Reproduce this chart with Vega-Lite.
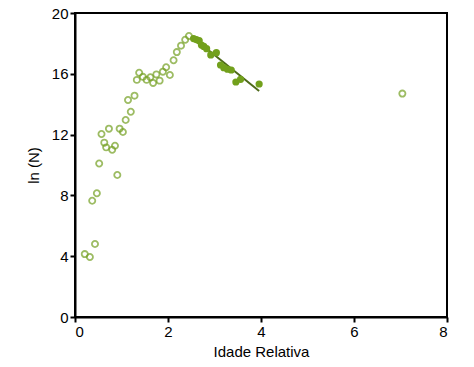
{
  "$schema": "https://vega.github.io/schema/vega-lite/v6.json",
  "width": 372,
  "height": 304,
  "autosize": {"type": "none"},
  "padding": {"left": 75, "top": 13, "right": 27, "bottom": 50},
  "background": "white",
  "config": {
    "view": {"stroke": "black", "strokeWidth": 2},
    "axis": {
      "grid": false,
      "domainColor": "black",
      "domainWidth": 2,
      "tickColor": "black",
      "tickWidth": 2,
      "tickSize": 5,
      "labelFont": "Liberation Sans",
      "labelFontSize": 15,
      "labelColor": "black",
      "titleFont": "Liberation Sans",
      "titleFontSize": 15,
      "titleFontWeight": "normal",
      "titleColor": "black"
    }
  },
  "datasets": {
    "pts": [
      {"x": 0.21, "y": 4.14, "g": "open"},
      {"x": 0.32, "y": 3.95, "g": "open"},
      {"x": 0.43, "y": 4.8, "g": "open"},
      {"x": 0.37, "y": 7.65, "g": "open"},
      {"x": 0.47, "y": 8.14, "g": "open"},
      {"x": 0.52, "y": 10.1, "g": "open"},
      {"x": 0.57, "y": 12.04, "g": "open"},
      {"x": 0.63, "y": 11.47, "g": "open"},
      {"x": 0.67, "y": 11.16, "g": "open"},
      {"x": 0.73, "y": 12.39, "g": "open"},
      {"x": 0.8, "y": 11.0, "g": "open"},
      {"x": 0.86, "y": 11.27, "g": "open"},
      {"x": 0.91, "y": 9.34, "g": "open"},
      {"x": 0.96, "y": 12.39, "g": "open"},
      {"x": 1.03, "y": 12.17, "g": "open"},
      {"x": 1.09, "y": 12.96, "g": "open"},
      {"x": 1.14, "y": 14.28, "g": "open"},
      {"x": 1.2, "y": 13.5, "g": "open"},
      {"x": 1.28, "y": 14.56, "g": "open"},
      {"x": 1.33, "y": 15.6, "g": "open"},
      {"x": 1.38, "y": 16.07, "g": "open"},
      {"x": 1.46, "y": 15.8, "g": "open"},
      {"x": 1.54, "y": 15.6, "g": "open"},
      {"x": 1.62, "y": 15.77, "g": "open"},
      {"x": 1.68, "y": 15.4, "g": "open"},
      {"x": 1.75, "y": 15.96, "g": "open"},
      {"x": 1.82, "y": 15.55, "g": "open"},
      {"x": 1.89, "y": 16.14, "g": "open"},
      {"x": 1.96, "y": 16.43, "g": "open"},
      {"x": 2.04, "y": 15.92, "g": "open"},
      {"x": 2.12, "y": 16.89, "g": "open"},
      {"x": 2.19, "y": 17.43, "g": "open"},
      {"x": 2.28, "y": 17.85, "g": "open"},
      {"x": 2.37, "y": 18.24, "g": "open"},
      {"x": 2.45, "y": 18.49, "g": "open"},
      {"x": 7.04, "y": 14.7, "g": "open"},
      {"x": 2.55, "y": 18.32, "g": "filled"},
      {"x": 2.61, "y": 18.25, "g": "filled"},
      {"x": 2.67, "y": 18.18, "g": "filled"},
      {"x": 2.72, "y": 17.89, "g": "filled"},
      {"x": 2.77, "y": 17.8, "g": "filled"},
      {"x": 2.83, "y": 17.65, "g": "filled"},
      {"x": 2.92, "y": 17.24, "g": "filled"},
      {"x": 3.04, "y": 17.39, "g": "filled"},
      {"x": 3.13, "y": 16.58, "g": "filled"},
      {"x": 3.2, "y": 16.4, "g": "filled"},
      {"x": 3.28, "y": 16.3, "g": "filled"},
      {"x": 3.36, "y": 16.25, "g": "filled"},
      {"x": 3.46, "y": 15.46, "g": "filled"},
      {"x": 3.56, "y": 15.64, "g": "filled"},
      {"x": 3.96, "y": 15.33, "g": "filled"}
    ],
    "fit": [
      {"x": 2.52, "y": 18.42},
      {"x": 3.96, "y": 14.87}
    ]
  },
  "layer": [
    {
      "data": {"name": "fit"},
      "mark": {"type": "line", "color": "#4e6a1a", "strokeWidth": 2},
      "encoding": {
        "x": {"field": "x", "type": "quantitative", "scale": {"domain": [0, 8]}, "axis": {"values": [0, 2, 4, 6, 8], "title": "Idade Relativa", "titlePadding": 5}},
        "y": {"field": "y", "type": "quantitative", "scale": {"domain": [0, 20]}, "axis": {"values": [0, 4, 8, 12, 16, 20], "title": "ln (N)", "titlePadding": 10}}
      }
    },
    {
      "data": {"name": "pts"},
      "transform": [{"filter": "datum.g == 'open'"}],
      "mark": {"type": "point", "shape": "circle", "filled": false, "color": "#74a022", "strokeWidth": 1.8, "size": 38},
      "encoding": {
        "x": {"field": "x", "type": "quantitative"},
        "y": {"field": "y", "type": "quantitative"}
      }
    },
    {
      "data": {"name": "pts"},
      "transform": [{"filter": "datum.g == 'filled'"}],
      "mark": {"type": "point", "shape": "circle", "filled": true, "color": "#72a01c", "opacity": 1, "size": 52},
      "encoding": {
        "x": {"field": "x", "type": "quantitative"},
        "y": {"field": "y", "type": "quantitative"}
      }
    }
  ]
}
